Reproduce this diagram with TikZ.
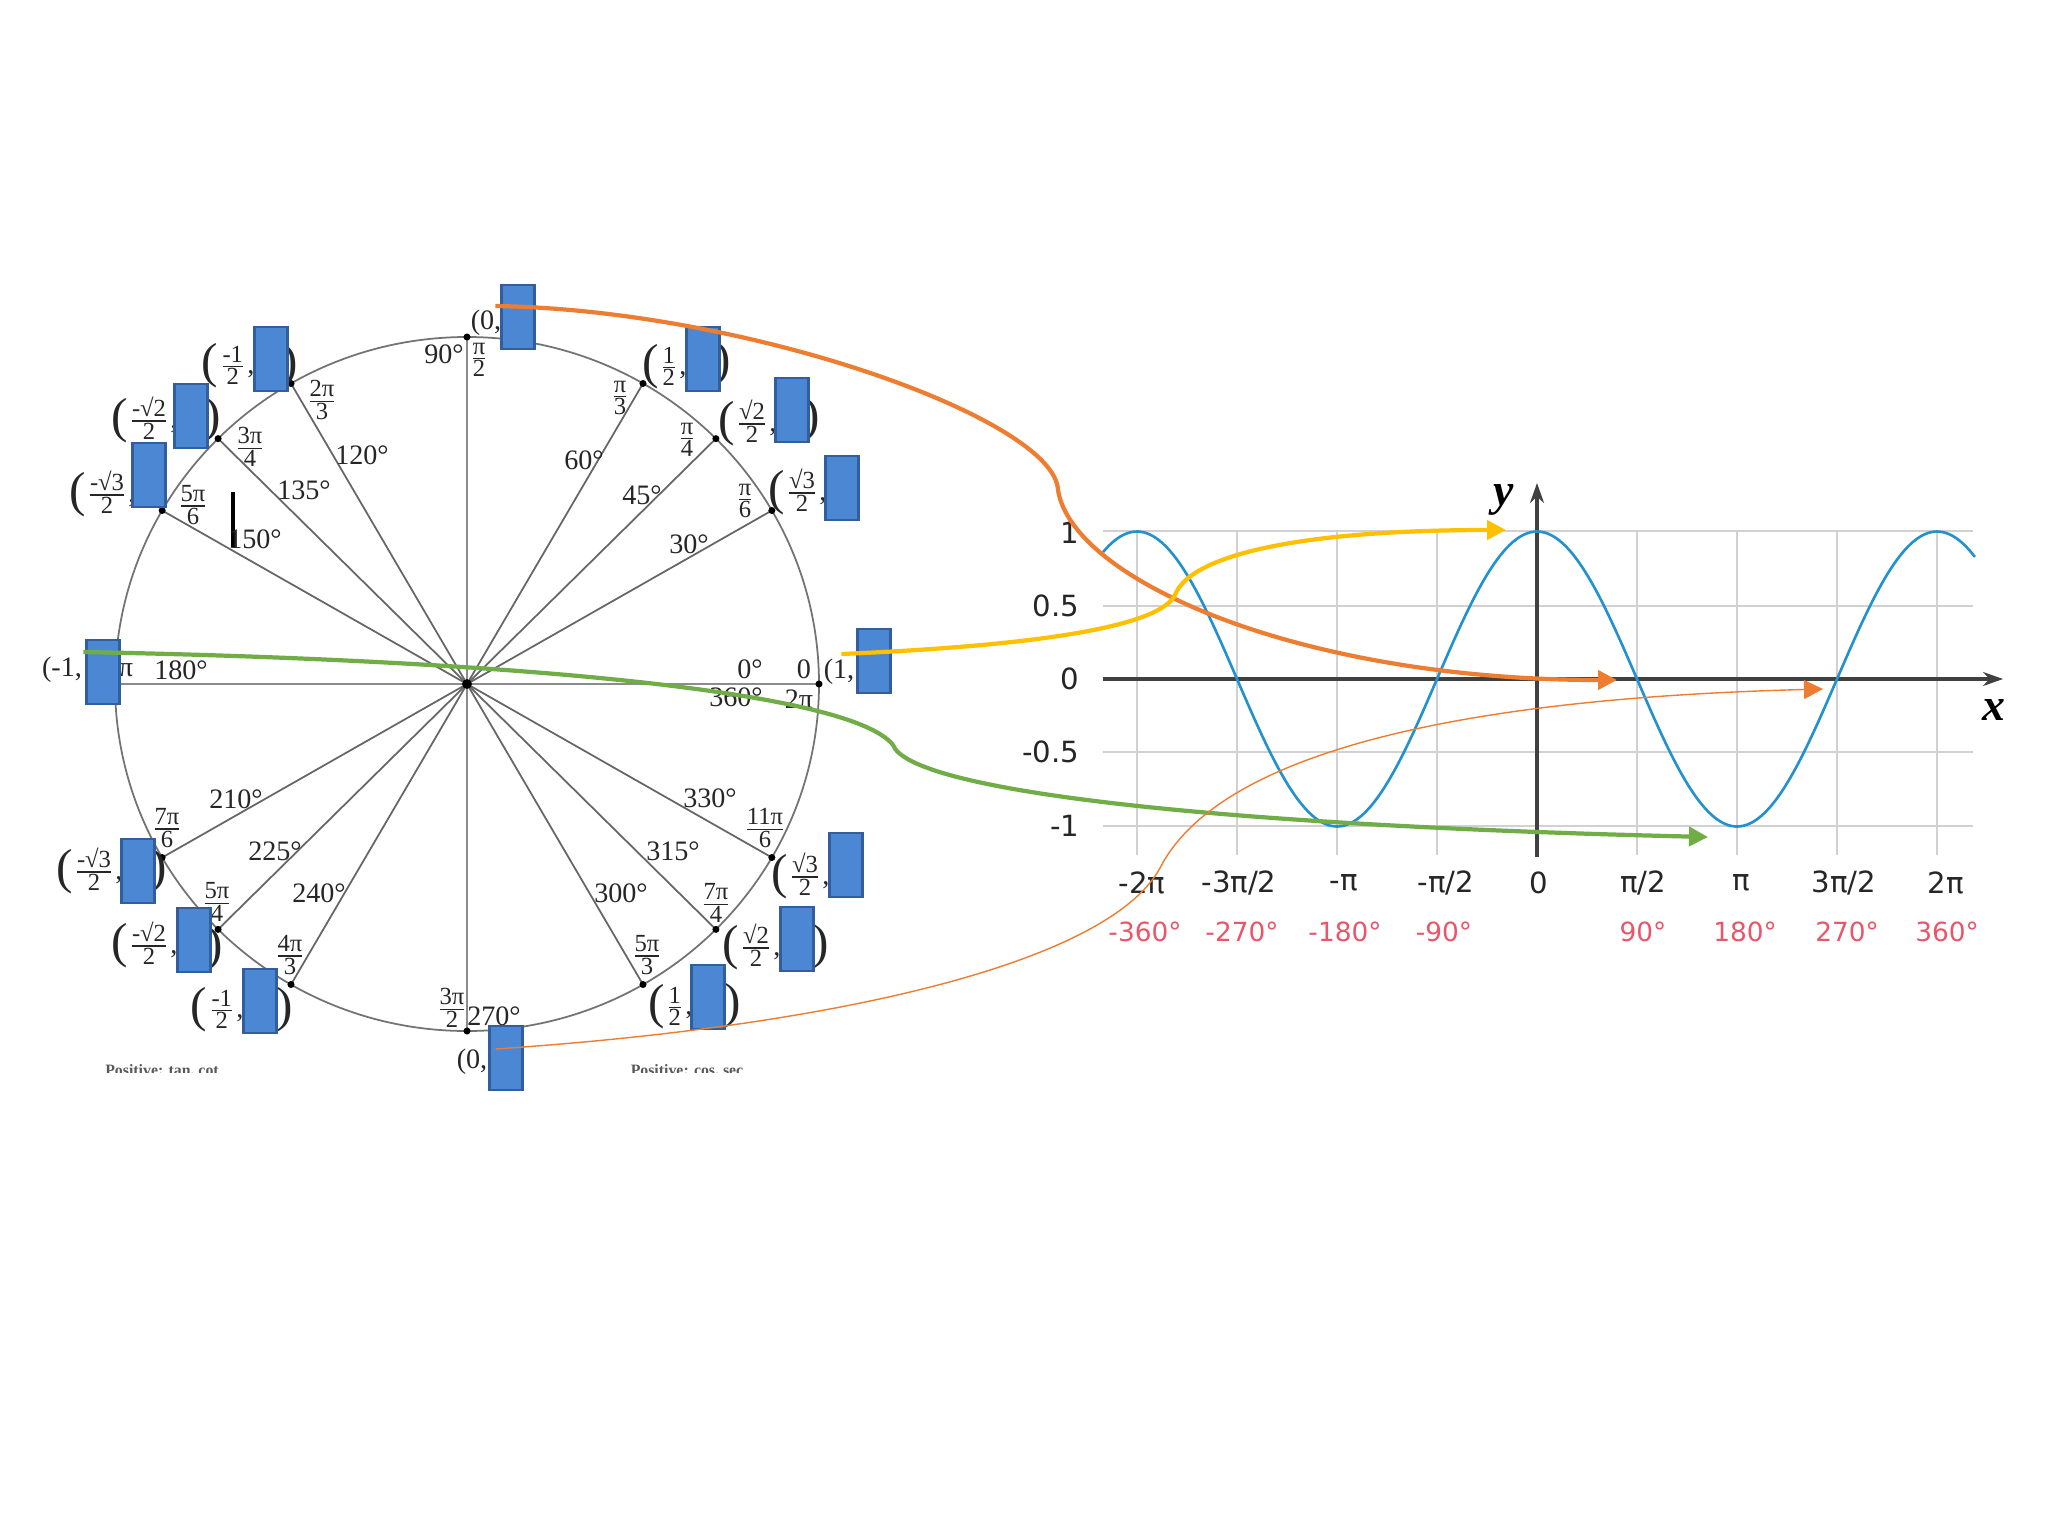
\documentclass[tikz,border=0pt]{standalone}
\usepackage{fontspec}
\usepackage{amsmath}
\setmainfont{Liberation Serif}
\newfontfamily\gfont{DejaVu Sans}
\usetikzlibrary{arrows.meta}
\DeclareMathSizes{8}{8}{7}{5}
\definecolor{qblue}{RGB}{75,135,210}
\definecolor{qedge}{RGB}{50,95,155}
\definecolor{orng}{RGB}{237,125,49}
\definecolor{ylw}{RGB}{255,192,0}
\definecolor{grn}{RGB}{112,173,71}
\definecolor{cosb}{RGB}{35,145,205}
\definecolor{degred}{RGB}{235,85,105}
\newcommand{\fr}[2]{\frac{\text{#1}}{\text{#2}}}
\newcommand{\lp}{\raisebox{-1.2pt}{\fontsize{14}{14}\selectfont(}}
\newcommand{\rp}{\raisebox{-1.2pt}{\fontsize{14}{14}\selectfont)}}

\begin{document}
\begin{tikzpicture}[x=0.01cm,y=-0.01cm,
    lbl/.style={font=\fontsize{8}{9}\selectfont,inner sep=0pt,text=black!85},
    qbox/.style={draw=qedge,fill=qblue,line width=0.6pt,minimum width=0.33cm,minimum height=0.64cm,inner sep=0pt},
    ray/.style={draw=black!60,line width=0.5pt},
    grd/.style={draw=black!18,line width=0.6pt},
    ax/.style={draw=black!75,line width=0.9pt,-{Stealth[length=0.2cm,width=0.14cm]}},
    tick/.style={font={\gfont\fontsize{8.3}{9}\selectfont},inner sep=0pt,text=black!85},
    deg/.style={font={\gfont\fontsize{7.5}{9}\selectfont},inner sep=0pt,text=degred},
    link/.style={line width=1.2pt,-{Triangle[length=0.19cm,width=0.19cm]}}]
\fill[white] (0,0) rectangle (2048,1536);
\useasboundingbox (0,0) rectangle (2048,1536);

% unit circle
\coordinate (O) at (467,684);
\draw[black!55,line width=0.5pt] (O) ellipse [x radius=352, y radius=347];
\draw[black!45,line width=0.6pt] (O) ++(-352,0) -- ++(704,0);
\draw[black!45,line width=0.6pt] (O) ++(0,-347) -- ++(0,694);
\foreach \a in {30,45,60,120,135,150,210,225,240,300,315,330}
    \draw[ray] (O) -- ++(-\a:352 and 347);
\foreach \a in {0,30,45,60,90,120,135,150,180,210,225,240,270,300,315,330}
    \fill (O) ++(-\a:352 and 347) circle (1pt);
\fill (O) circle (1.4pt);
\draw[line width=1pt] (233,492) -- (233,547);

% labels, first quadrant
\node[lbl] (c90) at (486,323) {(0,};
\node[lbl] (d90) at (444,354) {90°};
\node[lbl] (r90) at (479,360) {$\fr{π}{2}$};
\node[lbl,anchor=east] (c60) at (687,367) {\lp$\fr{1}{2}$,};
\node[lbl] (p60) at (723,364) {\rp};
\node[lbl] (r60) at (620,398) {$\fr{π}{3}$};
\node[lbl] (d60) at (584,460) {60°};
\node[lbl,anchor=east] (c45) at (777,423) {\lp$\fr{√2}{2}$,};
\node[lbl] (p45) at (812,420) {\rp};
\node[lbl] (r45) at (687,440) {$\fr{π}{4}$};
\node[lbl] (d45) at (642,495) {45°};
\node[lbl,anchor=east] (c30) at (827,492) {\lp$\fr{√3}{2}$,};
\node[lbl] (r30) at (745,501) {$\fr{π}{6}$};
\node[lbl] (d30) at (689,544) {30°};
\node[lbl] (d0) at (750,669) {0°};
\node[lbl] (r0) at (804,669) {0};
\node[lbl] (c0) at (839,672) {(1,};
\node[lbl] (d360) at (736,697) {360°};
\node[lbl] (r360) at (799,699) {2π};

% second quadrant
\node[lbl,anchor=east] (c120) at (255,366) {\lp$\fr{-1}{2}$,};
\node[lbl] (p120) at (290,366) {\rp};
\node[lbl] (r120) at (322,400) {$\fr{2π}{3}$};
\node[lbl] (d120) at (362,455) {120°};
\node[lbl,anchor=east] (c135) at (178,420) {\lp$\fr{-√2}{2}$,};
\node[lbl] (p135) at (213,420) {\rp};
\node[lbl] (r135) at (250,447) {$\fr{3π}{4}$};
\node[lbl] (d135) at (304,490) {135°};
\node[lbl,anchor=east] (c150) at (136,494) {\lp$\fr{-√3}{2}$,};
\node[lbl] (r150) at (193,505) {$\fr{5π}{6}$};
\node[lbl] (d150) at (255,539) {150°};
\node[lbl] (c180) at (62,670) {(-1,};
\node[lbl] (r180) at (126,670) {π};
\node[lbl] (d180) at (181,670) {180°};

% lower half
\node[lbl,anchor=east] (c210) at (123,871) {\lp$\fr{-√3}{2}$,};
\node[lbl] (p210) at (159,871) {\rp};
\node[lbl] (r210) at (167,828) {$\fr{7π}{6}$};
\node[lbl] (d210) at (236,799) {210°};
\node[lbl,anchor=east] (c225) at (178,945) {\lp$\fr{-√2}{2}$,};
\node[lbl] (p225) at (215,949) {\rp};
\node[lbl] (r225) at (217,902) {$\fr{5π}{4}$};
\node[lbl] (d225) at (275,851) {225°};
\node[lbl,anchor=east] (c240) at (244,1010) {\lp$\fr{-1}{2}$,};
\node[lbl] (p240) at (285,1010) {\rp};
\node[lbl] (r240) at (290,955) {$\fr{4π}{3}$};
\node[lbl] (d240) at (319,893) {240°};
\node[lbl] (r270) at (452,1008) {$\fr{3π}{2}$};
\node[lbl] (d270) at (494,1016) {270°};
\node[lbl] (c270) at (472,1062) {(0,};
\node[lbl,anchor=east] (c300) at (693,1007) {\lp$\fr{1}{2}$,};
\node[lbl] (p300) at (733,1006) {\rp};
\node[lbl] (r300) at (647,955) {$\fr{5π}{3}$};
\node[lbl] (d300) at (621,893) {300°};
\node[lbl,anchor=east] (c315) at (781,947) {\lp$\fr{√2}{2}$,};
\node[lbl] (p315) at (821,947) {\rp};
\node[lbl] (r315) at (716,903) {$\fr{7π}{4}$};
\node[lbl] (d315) at (673,851) {315°};
\node[lbl,anchor=east] (c330) at (830,876) {\lp$\fr{√3}{2}$,};
\node[lbl] (r330) at (765,828) {$\fr{11π}{6}$};
\node[lbl] (d330) at (710,798) {330°};

\begin{scope}
    \clip (0,0) rectangle (2048,1072);
    \node[font=\fontsize{4.5}{5}\selectfont\bfseries,text=black!65] (posL) at (162,1071) {Positive: tan, cot};
    \node[font=\fontsize{4.5}{5}\selectfont\bfseries,text=black!65] (posR) at (687,1071) {Positive: cos, sec};
\end{scope}

% graph of cos
\foreach \k in {-4,-3,-2,-1,1,2,3,4}
    \draw[grd] ({1537+100*\k},531) -- ({1537+100*\k},855);
\foreach \v in {531,606,752,826}
    \draw[grd] (1103,\v) -- (1973,\v);
\draw[ax] (1103,679) -- (2003,679);
\draw[ax] (1537,857) -- (1537,483);
\draw[cosb,line width=0.75pt] plot[domain=-4.34:4.38,samples=150,smooth] ({1537+100*\x},{679-147.5*cos(90*\x)});
\node[font=\fontsize{13}{14}\selectfont\bfseries\itshape] (ylab) at (1504,500) {y};
\node[font=\fontsize{13}{14}\selectfont\bfseries\itshape] (xlab) at (1994,710) {x};

\node[tick,anchor=east] (y1) at (1080,533) {1};
\node[tick,anchor=east] (y05) at (1080,606) {0.5};
\node[tick,anchor=east] (y0) at (1080,679) {0};
\node[tick,anchor=east] (ym05) at (1080,752) {-0.5};
\node[tick,anchor=east] (ym1) at (1080,826) {-1};
\node[tick] (xm2) at (1142,883) {-2π};
\node[tick] (xm32) at (1239,883) {-3π/2};
\node[tick] (xm1) at (1344,883) {-π};
\node[tick] (xm12) at (1446,883) {-π/2};
\node[tick] (x0) at (1539,883) {0};
\node[tick] (x12) at (1643,883) {π/2};
\node[tick] (x1) at (1741,883) {π};
\node[tick] (x32) at (1844,883) {3π/2};
\node[tick] (x2) at (1946,883) {2π};
\node[deg] (gm360) at (1145,932) {-360°};
\node[deg] (gm270) at (1242,932) {-270°};
\node[deg] (gm180) at (1345,932) {-180°};
\node[deg] (gm90) at (1444,932) {-90°};
\node[deg] (g90) at (1643,932) {90°};
\node[deg] (g180) at (1745,932) {180°};
\node[deg] (g270) at (1847,932) {270°};
\node[deg] (g360) at (1947,932) {360°};

% covers over the coordinates
\foreach \n/\p in {90/{518,317},60/{703,359},45/{792,410},30/{842,488},0/{874,661},
        330/{846,865},315/{797,939},300/{708,997},270/{506,1058},240/{260,1001},
        225/{194,940},210/{138,871},180/{103,672},150/{149,475},135/{191,416},120/{271,359}}
    \node[qbox] (q\n) at (\p) {};

% arrows to the graph
\coordinate (peak) at (1506,530);
\coordinate (zeroA) at (1617,680);
\coordinate (zeroB) at (1823,689);
\coordinate (trough) at (1708,837);
\draw[link,orng] ([shift={(-5,-11)}]q90.west) .. controls (750,310) and (1055,420) .. (1058,490)
    .. controls (1072,580) and (1300,680) .. (zeroA);
\draw[link,ylw] ([shift={(-15,-7)}]q0.west) .. controls (1050,645) and (1160,625) .. (1175,595)
    .. controls (1190,555) and (1300,530) .. (peak);
\draw[link,grn] ([shift={(-2,-20)}]q180.west) .. controls (500,660) and (850,690) .. (893,745)
    .. controls (910,790) and (1200,825) .. (trough);
\draw[link,orng,line width=0.4pt] ([shift={(7,-9)}]q270.west) .. controls (850,1025) and (1110,960) .. (1160,868)
    .. controls (1210,770) and (1400,700) .. (zeroB);
\end{tikzpicture}
\end{document}
